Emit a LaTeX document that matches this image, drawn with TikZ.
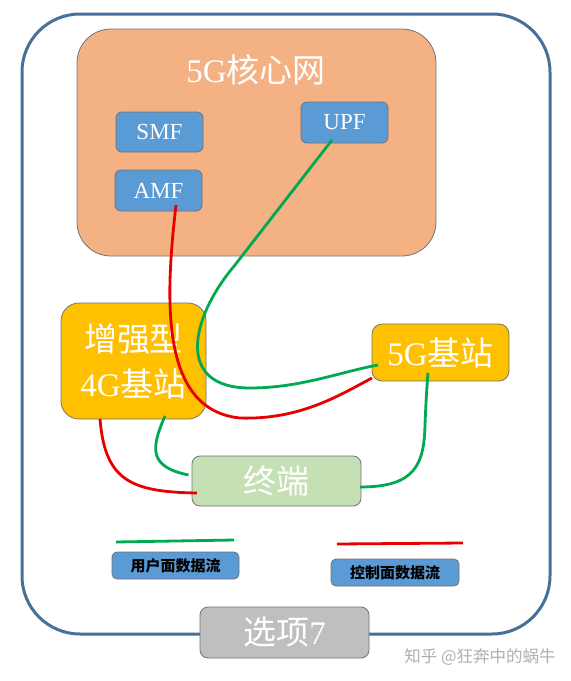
\documentclass[tikz,border=0pt]{standalone}
\usepackage{fontspec}
\setmainfont{Liberation Serif}
\newfontfamily\cjk{Noto Sans CJK SC}
\usetikzlibrary{calc}
\definecolor{outerblue}{RGB}{70,112,152}
\definecolor{peach}{RGB}{244,177,131}
\definecolor{boxblue}{RGB}{91,155,213}
\definecolor{gold}{RGB}{255,192,0}
\definecolor{lgreen}{RGB}{197,224,180}
\definecolor{lgray}{RGB}{191,191,191}
\definecolor{edgegray}{RGB}{115,115,115}
\definecolor{ugreen}{RGB}{0,170,80}
\definecolor{cred}{RGB}{230,0,0}
\definecolor{wmgray}{RGB}{175,175,175}
\tikzset{
  box/.style={draw=edgegray,line width=0.8pt,inner sep=0pt},
  nf/.style={box,fill=boxblue,rounded corners=6pt,text=white,font=\fontsize{23}{25}\selectfont},
  bigtxt/.style={text=white,font=\fontsize{33}{45}\selectfont},
  legbox/.style={box,fill=boxblue,rounded corners=5pt,text=black,font=\cjk\bfseries\fontsize{15}{17}\selectfont},
  uflow/.style={ugreen,line width=2.8pt},
  cflow/.style={cred,line width=2.8pt},
}
\begin{document}
\begin{tikzpicture}[x=1pt,y=-1pt]
\useasboundingbox (0,0) rectangle (571,681);
% outer frame
\draw[outerblue,line width=3pt,rounded corners=58pt] (22,14) rectangle (550,634);
% core
\node[box,fill=peach,rounded corners=34pt,minimum width=359pt,minimum height=227pt] (core) at (256.5,142.5) {};
\node[bigtxt] (coretitle) at (256,70) {5G{\cjk 核心网}};
\node[nf,minimum width=87pt,minimum height=40pt] (smf) at (159.5,132) {SMF};
\node[nf,minimum width=87pt,minimum height=41pt] (amf) at (158.5,190.5) {AMF};
\node[nf,minimum width=87pt,minimum height=41pt] (upf) at (344.5,122.5) {UPF};
% base stations
\node[box,fill=gold,rounded corners=18pt,minimum width=145pt,minimum height=116pt,bigtxt,align=center] (g4) at (133.5,361) {{\cjk 增强型}\\4G{\cjk 基站}};
\node[box,fill=gold,rounded corners=10pt,minimum width=137pt,minimum height=57pt,bigtxt] (g5) at (440.5,352.5) {5G{\cjk 基站}};
\node[box,fill=lgreen,rounded corners=8pt,minimum width=169pt,minimum height=50pt,bigtxt] (ue) at (276.5,481) {\cjk 终端};
% flows
\draw[cflow] ($(amf.center)+(17.5,14.5)$) .. controls (165,300) and (160,410) .. (240,418) .. controls (300,420) and (340,395) .. ($(g5.center)+(-68.5,25.5)$);
\draw[uflow] ($(upf.center)+(-12.5,17.5)$) -- (235,265) .. controls (190,318) and (175,388) .. (250,388) .. controls (300,388) and (340,372) .. ($(g5.center)+(-62.5,12.5)$);
\draw[uflow] ($(g4.center)+(31.5,55)$) .. controls (150,450) and (150,467) .. ($(ue.center)+(-88,-6)$);
\draw[cflow] ($(g4.center)+(-33.5,58)$) .. controls (105,480) and (130,492) .. ($(ue.center)+(-79.5,12)$);
\draw[uflow] ($(ue.center)+(83.5,6)$) .. controls (415,487) and (424,465) .. (425,425) .. controls (426,400) and (427,385) .. ($(g5.center)+(-12.5,20.5)$);
% legend
\coordinate (lg1) at (116,542);
\coordinate (lg2) at (234,540);
\coordinate (lr1) at (337,544);
\coordinate (lr2) at (463,543);
\draw[uflow] (lg1) -- (lg2);
\draw[cflow] (lr1) -- (lr2);
\node[legbox,minimum width=127pt,minimum height=27pt] (legu) at (175.5,565.5) {用户面数据流};
\node[legbox,minimum width=128pt,minimum height=27pt] (legc) at (395,572.5) {控制面数据流};
% option box
\node[box,fill=lgray,rounded corners=8pt,minimum width=169pt,minimum height=51pt,bigtxt] (opt) at (284.5,632.5) {{\cjk 选项}7};
% watermark
\node[text=wmgray,font=\cjk\fontsize{16.5}{18}\selectfont] (wm) at (480,657) {知乎 @狂奔中的蜗牛};
\end{tikzpicture}
\end{document}
